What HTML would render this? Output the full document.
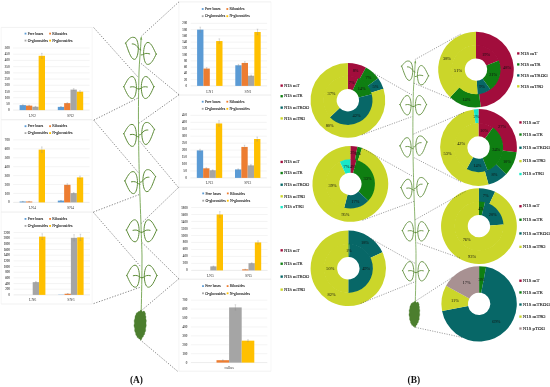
<!DOCTYPE html>
<html><head><meta charset="utf-8"><title>Figure</title>
<style>html,body{margin:0;padding:0;background:#fff}body{width:550px;height:387px;overflow:hidden}svg{display:block;font-family:'Liberation Serif', serif}</style>
</head><body>
<svg width="550" height="387" viewBox="0 0 550 387" font-family='"Liberation Serif", serif'>
<rect width="550" height="387" fill="#fff"/>
<g>
<rect x="1.2" y="27.4" width="91" height="92.4" fill="#fff"/>
<path d="M1.2 27.4H92.2M1.2 119.8H92.2" stroke="#E2E2E2" stroke-width="0.5" fill="none"/>
<path d="M1.2 27.4V119.8M92.2 27.4V119.8" stroke="#EDEDED" stroke-width="0.5" fill="none"/>
<line x1="13.2" y1="110.1" x2="89.6" y2="110.1" stroke="#CFCFCF" stroke-width="0.4"/>
<text x="9.5" y="111.15" font-size="3.1" text-anchor="end" fill="#474747" stroke="#474747" stroke-width="0.08">0</text>
<line x1="13.2" y1="103.89" x2="89.6" y2="103.89" stroke="#E4E4E4" stroke-width="0.4"/>
<text x="9.5" y="104.94" font-size="3.1" text-anchor="end" fill="#474747" stroke="#474747" stroke-width="0.08">50</text>
<line x1="13.2" y1="97.68" x2="89.6" y2="97.68" stroke="#E4E4E4" stroke-width="0.4"/>
<text x="9.5" y="98.73" font-size="3.1" text-anchor="end" fill="#474747" stroke="#474747" stroke-width="0.08">100</text>
<line x1="13.2" y1="91.47" x2="89.6" y2="91.47" stroke="#E4E4E4" stroke-width="0.4"/>
<text x="9.5" y="92.52" font-size="3.1" text-anchor="end" fill="#474747" stroke="#474747" stroke-width="0.08">150</text>
<line x1="13.2" y1="85.26" x2="89.6" y2="85.26" stroke="#E4E4E4" stroke-width="0.4"/>
<text x="9.5" y="86.31" font-size="3.1" text-anchor="end" fill="#474747" stroke="#474747" stroke-width="0.08">200</text>
<line x1="13.2" y1="79.05" x2="89.6" y2="79.05" stroke="#E4E4E4" stroke-width="0.4"/>
<text x="9.5" y="80.1" font-size="3.1" text-anchor="end" fill="#474747" stroke="#474747" stroke-width="0.08">250</text>
<line x1="13.2" y1="72.84" x2="89.6" y2="72.84" stroke="#E4E4E4" stroke-width="0.4"/>
<text x="9.5" y="73.89" font-size="3.1" text-anchor="end" fill="#474747" stroke="#474747" stroke-width="0.08">300</text>
<line x1="13.2" y1="66.63" x2="89.6" y2="66.63" stroke="#E4E4E4" stroke-width="0.4"/>
<text x="9.5" y="67.68" font-size="3.1" text-anchor="end" fill="#474747" stroke="#474747" stroke-width="0.08">350</text>
<line x1="13.2" y1="60.42" x2="89.6" y2="60.42" stroke="#E4E4E4" stroke-width="0.4"/>
<text x="9.5" y="61.47" font-size="3.1" text-anchor="end" fill="#474747" stroke="#474747" stroke-width="0.08">400</text>
<line x1="13.2" y1="54.21" x2="89.6" y2="54.21" stroke="#E4E4E4" stroke-width="0.4"/>
<text x="9.5" y="55.26" font-size="3.1" text-anchor="end" fill="#474747" stroke="#474747" stroke-width="0.08">450</text>
<line x1="13.2" y1="48" x2="89.6" y2="48" stroke="#E4E4E4" stroke-width="0.4"/>
<text x="9.5" y="49.05" font-size="3.1" text-anchor="end" fill="#474747" stroke="#474747" stroke-width="0.08">500</text>
<rect x="19.6" y="105.13" width="6.35" height="4.97" fill="#5B9BD5"/>
<path d="M22.77 104.76V105.5M21.97 104.76h1.6M21.97 105.5h1.6" stroke="#8a8a8a" stroke-width="0.3" fill="none"/>
<rect x="25.95" y="105.63" width="6.35" height="4.47" fill="#ED7D31"/>
<path d="M29.12 105.26V106M28.32 105.26h1.6M28.32 106h1.6" stroke="#8a8a8a" stroke-width="0.3" fill="none"/>
<rect x="32.3" y="106.75" width="6.35" height="3.35" fill="#A5A5A5"/>
<path d="M35.47 106.37V107.12M34.67 106.37h1.6M34.67 107.12h1.6" stroke="#8a8a8a" stroke-width="0.3" fill="none"/>
<rect x="38.65" y="55.82" width="6.35" height="54.28" fill="#FFC000"/>
<path d="M41.82 53.34V58.31M41.02 53.34h1.6M41.02 58.31h1.6" stroke="#8a8a8a" stroke-width="0.3" fill="none"/>
<text x="32.3" y="116.55" font-size="4" text-anchor="middle" fill="#474747">LN2</text>
<rect x="57.8" y="106.87" width="6.35" height="3.23" fill="#5B9BD5"/>
<path d="M60.97 106.62V107.12M60.17 106.62h1.6M60.17 107.12h1.6" stroke="#8a8a8a" stroke-width="0.3" fill="none"/>
<rect x="64.15" y="103.14" width="6.35" height="6.96" fill="#ED7D31"/>
<path d="M67.32 102.65V103.64M66.52 102.65h1.6M66.52 103.64h1.6" stroke="#8a8a8a" stroke-width="0.3" fill="none"/>
<rect x="70.5" y="89.61" width="6.35" height="20.49" fill="#A5A5A5"/>
<path d="M73.67 88.61V90.6M72.87 88.61h1.6M72.87 90.6h1.6" stroke="#8a8a8a" stroke-width="0.3" fill="none"/>
<rect x="76.85" y="91.72" width="6.35" height="18.38" fill="#FFC000"/>
<path d="M80.02 90.72V92.71M79.22 90.72h1.6M79.22 92.71h1.6" stroke="#8a8a8a" stroke-width="0.3" fill="none"/>
<text x="70.5" y="116.55" font-size="4" text-anchor="middle" fill="#474747">SN2</text>
<rect x="24.6" y="32.7" width="1.8" height="1.8" fill="#5B9BD5"/>
<text x="27.7" y="34.85" font-size="3.8" fill="#2a2a2a" stroke="#2a2a2a" stroke-width="0.1" textLength="15.6" lengthAdjust="spacingAndGlyphs">Free bases</text>
<rect x="49.2" y="32.7" width="1.8" height="1.8" fill="#ED7D31"/>
<text x="52.3" y="34.85" font-size="3.8" fill="#2a2a2a" stroke="#2a2a2a" stroke-width="0.1" textLength="14.9" lengthAdjust="spacingAndGlyphs">Ribosides</text>
<rect x="24.6" y="39.7" width="1.8" height="1.8" fill="#A5A5A5"/>
<text x="27.7" y="41.85" font-size="3.8" fill="#2a2a2a" stroke="#2a2a2a" stroke-width="0.1" textLength="20.3" lengthAdjust="spacingAndGlyphs">O-glucosides</text>
<rect x="49.2" y="39.7" width="1.8" height="1.8" fill="#FFC000"/>
<text x="52.3" y="41.85" font-size="3.8" fill="#2a2a2a" stroke="#2a2a2a" stroke-width="0.1" textLength="20.2" lengthAdjust="spacingAndGlyphs">N-glucosides</text>
</g>
<g>
<rect x="1.2" y="119.8" width="91" height="92.4" fill="#fff"/>
<path d="M1.2 119.8H92.2M1.2 212.2H92.2" stroke="#E2E2E2" stroke-width="0.5" fill="none"/>
<path d="M1.2 119.8V212.2M92.2 119.8V212.2" stroke="#EDEDED" stroke-width="0.5" fill="none"/>
<line x1="13.2" y1="202.4" x2="89.6" y2="202.4" stroke="#CFCFCF" stroke-width="0.4"/>
<text x="9.5" y="203.45" font-size="3.1" text-anchor="end" fill="#474747" stroke="#474747" stroke-width="0.08">0</text>
<line x1="13.2" y1="193.47" x2="89.6" y2="193.47" stroke="#E4E4E4" stroke-width="0.4"/>
<text x="9.5" y="194.52" font-size="3.1" text-anchor="end" fill="#474747" stroke="#474747" stroke-width="0.08">100</text>
<line x1="13.2" y1="184.54" x2="89.6" y2="184.54" stroke="#E4E4E4" stroke-width="0.4"/>
<text x="9.5" y="185.59" font-size="3.1" text-anchor="end" fill="#474747" stroke="#474747" stroke-width="0.08">200</text>
<line x1="13.2" y1="175.61" x2="89.6" y2="175.61" stroke="#E4E4E4" stroke-width="0.4"/>
<text x="9.5" y="176.66" font-size="3.1" text-anchor="end" fill="#474747" stroke="#474747" stroke-width="0.08">300</text>
<line x1="13.2" y1="166.69" x2="89.6" y2="166.69" stroke="#E4E4E4" stroke-width="0.4"/>
<text x="9.5" y="167.74" font-size="3.1" text-anchor="end" fill="#474747" stroke="#474747" stroke-width="0.08">400</text>
<line x1="13.2" y1="157.76" x2="89.6" y2="157.76" stroke="#E4E4E4" stroke-width="0.4"/>
<text x="9.5" y="158.81" font-size="3.1" text-anchor="end" fill="#474747" stroke="#474747" stroke-width="0.08">500</text>
<line x1="13.2" y1="148.83" x2="89.6" y2="148.83" stroke="#E4E4E4" stroke-width="0.4"/>
<text x="9.5" y="149.88" font-size="3.1" text-anchor="end" fill="#474747" stroke="#474747" stroke-width="0.08">600</text>
<line x1="13.2" y1="139.9" x2="89.6" y2="139.9" stroke="#E4E4E4" stroke-width="0.4"/>
<text x="9.5" y="140.95" font-size="3.1" text-anchor="end" fill="#474747" stroke="#474747" stroke-width="0.08">700</text>
<rect x="19.6" y="201.51" width="6.35" height="0.89" fill="#5B9BD5"/>
<path d="M22.77 201.42V201.6M21.97 201.42h1.6M21.97 201.6h1.6" stroke="#8a8a8a" stroke-width="0.3" fill="none"/>
<rect x="25.95" y="201.51" width="6.35" height="0.89" fill="#ED7D31"/>
<path d="M29.12 201.42V201.6M28.32 201.42h1.6M28.32 201.6h1.6" stroke="#8a8a8a" stroke-width="0.3" fill="none"/>
<rect x="38.65" y="149.63" width="6.35" height="52.77" fill="#FFC000"/>
<path d="M41.82 146.95V152.31M41.02 146.95h1.6M41.02 152.31h1.6" stroke="#8a8a8a" stroke-width="0.3" fill="none"/>
<text x="32.3" y="208.95" font-size="4" text-anchor="middle" fill="#474747">LN4</text>
<rect x="57.8" y="200.61" width="6.35" height="1.79" fill="#5B9BD5"/>
<path d="M60.97 200.44V200.79M60.17 200.44h1.6M60.17 200.79h1.6" stroke="#8a8a8a" stroke-width="0.3" fill="none"/>
<rect x="64.15" y="184.81" width="6.35" height="17.59" fill="#ED7D31"/>
<path d="M67.32 183.74V185.88M66.52 183.74h1.6M66.52 185.88h1.6" stroke="#8a8a8a" stroke-width="0.3" fill="none"/>
<rect x="70.5" y="193.11" width="6.35" height="9.29" fill="#A5A5A5"/>
<path d="M73.67 192.58V193.65M72.87 192.58h1.6M72.87 193.65h1.6" stroke="#8a8a8a" stroke-width="0.3" fill="none"/>
<rect x="76.85" y="177.4" width="6.35" height="25" fill="#FFC000"/>
<path d="M80.02 176.15V178.65M79.22 176.15h1.6M79.22 178.65h1.6" stroke="#8a8a8a" stroke-width="0.3" fill="none"/>
<text x="70.5" y="208.95" font-size="4" text-anchor="middle" fill="#474747">SN4</text>
<rect x="24.6" y="125.3" width="1.8" height="1.8" fill="#5B9BD5"/>
<text x="27.7" y="127.45" font-size="3.8" fill="#2a2a2a" stroke="#2a2a2a" stroke-width="0.1" textLength="15.6" lengthAdjust="spacingAndGlyphs">Free bases</text>
<rect x="49.2" y="125.3" width="1.8" height="1.8" fill="#ED7D31"/>
<text x="52.3" y="127.45" font-size="3.8" fill="#2a2a2a" stroke="#2a2a2a" stroke-width="0.1" textLength="14.9" lengthAdjust="spacingAndGlyphs">Ribosides</text>
<rect x="24.6" y="132.2" width="1.8" height="1.8" fill="#A5A5A5"/>
<text x="27.7" y="134.35" font-size="3.8" fill="#2a2a2a" stroke="#2a2a2a" stroke-width="0.1" textLength="20.3" lengthAdjust="spacingAndGlyphs">O-glucosides</text>
<rect x="49.2" y="132.2" width="1.8" height="1.8" fill="#FFC000"/>
<text x="52.3" y="134.35" font-size="3.8" fill="#2a2a2a" stroke="#2a2a2a" stroke-width="0.1" textLength="20.2" lengthAdjust="spacingAndGlyphs">N-glucosides</text>
</g>
<g>
<rect x="1.2" y="212.2" width="91" height="91.8" fill="#fff"/>
<path d="M1.2 212.2H92.2M1.2 304H92.2" stroke="#E2E2E2" stroke-width="0.5" fill="none"/>
<path d="M1.2 212.2V304M92.2 212.2V304" stroke="#EDEDED" stroke-width="0.5" fill="none"/>
<line x1="13.6" y1="294.9" x2="90" y2="294.9" stroke="#CFCFCF" stroke-width="0.4"/>
<text x="9.9" y="295.95" font-size="3.1" text-anchor="end" fill="#474747" stroke="#474747" stroke-width="0.08">0</text>
<line x1="13.6" y1="289.23" x2="90" y2="289.23" stroke="#E4E4E4" stroke-width="0.4"/>
<text x="9.9" y="290.28" font-size="3.1" text-anchor="end" fill="#474747" stroke="#474747" stroke-width="0.08">200</text>
<line x1="13.6" y1="283.55" x2="90" y2="283.55" stroke="#E4E4E4" stroke-width="0.4"/>
<text x="9.9" y="284.6" font-size="3.1" text-anchor="end" fill="#474747" stroke="#474747" stroke-width="0.08">400</text>
<line x1="13.6" y1="277.88" x2="90" y2="277.88" stroke="#E4E4E4" stroke-width="0.4"/>
<text x="9.9" y="278.93" font-size="3.1" text-anchor="end" fill="#474747" stroke="#474747" stroke-width="0.08">600</text>
<line x1="13.6" y1="272.21" x2="90" y2="272.21" stroke="#E4E4E4" stroke-width="0.4"/>
<text x="9.9" y="273.26" font-size="3.1" text-anchor="end" fill="#474747" stroke="#474747" stroke-width="0.08">800</text>
<line x1="13.6" y1="266.54" x2="90" y2="266.54" stroke="#E4E4E4" stroke-width="0.4"/>
<text x="9.9" y="267.59" font-size="3.1" text-anchor="end" fill="#474747" stroke="#474747" stroke-width="0.08">1000</text>
<line x1="13.6" y1="260.86" x2="90" y2="260.86" stroke="#E4E4E4" stroke-width="0.4"/>
<text x="9.9" y="261.91" font-size="3.1" text-anchor="end" fill="#474747" stroke="#474747" stroke-width="0.08">1200</text>
<line x1="13.6" y1="255.19" x2="90" y2="255.19" stroke="#E4E4E4" stroke-width="0.4"/>
<text x="9.9" y="256.24" font-size="3.1" text-anchor="end" fill="#474747" stroke="#474747" stroke-width="0.08">1400</text>
<line x1="13.6" y1="249.52" x2="90" y2="249.52" stroke="#E4E4E4" stroke-width="0.4"/>
<text x="9.9" y="250.57" font-size="3.1" text-anchor="end" fill="#474747" stroke="#474747" stroke-width="0.08">1600</text>
<line x1="13.6" y1="243.85" x2="90" y2="243.85" stroke="#E4E4E4" stroke-width="0.4"/>
<text x="9.9" y="244.9" font-size="3.1" text-anchor="end" fill="#474747" stroke="#474747" stroke-width="0.08">1800</text>
<line x1="13.6" y1="238.17" x2="90" y2="238.17" stroke="#E4E4E4" stroke-width="0.4"/>
<text x="9.9" y="239.22" font-size="3.1" text-anchor="end" fill="#474747" stroke="#474747" stroke-width="0.08">2000</text>
<line x1="13.6" y1="232.5" x2="90" y2="232.5" stroke="#E4E4E4" stroke-width="0.4"/>
<text x="9.9" y="233.55" font-size="3.1" text-anchor="end" fill="#474747" stroke="#474747" stroke-width="0.08">2200</text>
<rect x="32.7" y="282.14" width="6.35" height="12.76" fill="#A5A5A5"/>
<path d="M35.88 281.43V282.85M35.08 281.43h1.6M35.08 282.85h1.6" stroke="#8a8a8a" stroke-width="0.3" fill="none"/>
<rect x="39.05" y="236.64" width="6.35" height="58.26" fill="#FFC000"/>
<path d="M42.23 233.8V239.48M41.43 233.8h1.6M41.43 239.48h1.6" stroke="#8a8a8a" stroke-width="0.3" fill="none"/>
<text x="32.7" y="301.45" font-size="4" text-anchor="middle" fill="#474747">LN6</text>
<rect x="58.2" y="294.67" width="6.35" height="0.23" fill="#5B9BD5"/>
<rect x="64.55" y="293.77" width="6.35" height="1.13" fill="#ED7D31"/>
<path d="M67.72 293.65V293.88M66.92 293.65h1.6M66.92 293.88h1.6" stroke="#8a8a8a" stroke-width="0.3" fill="none"/>
<rect x="70.9" y="237.86" width="6.35" height="57.04" fill="#A5A5A5"/>
<path d="M74.07 234.74V240.98M73.27 234.74h1.6M73.27 240.98h1.6" stroke="#8a8a8a" stroke-width="0.3" fill="none"/>
<rect x="77.25" y="237.35" width="6.35" height="57.55" fill="#FFC000"/>
<path d="M80.42 234.23V240.47M79.62 234.23h1.6M79.62 240.47h1.6" stroke="#8a8a8a" stroke-width="0.3" fill="none"/>
<text x="70.9" y="301.45" font-size="4" text-anchor="middle" fill="#474747">SN6</text>
<rect x="24.6" y="218" width="1.8" height="1.8" fill="#5B9BD5"/>
<text x="27.7" y="220.15" font-size="3.8" fill="#2a2a2a" stroke="#2a2a2a" stroke-width="0.1" textLength="15.6" lengthAdjust="spacingAndGlyphs">Free bases</text>
<rect x="49.2" y="218" width="1.8" height="1.8" fill="#ED7D31"/>
<text x="52.3" y="220.15" font-size="3.8" fill="#2a2a2a" stroke="#2a2a2a" stroke-width="0.1" textLength="14.9" lengthAdjust="spacingAndGlyphs">Ribosides</text>
<rect x="24.6" y="225" width="1.8" height="1.8" fill="#A5A5A5"/>
<text x="27.7" y="227.15" font-size="3.8" fill="#2a2a2a" stroke="#2a2a2a" stroke-width="0.1" textLength="20.3" lengthAdjust="spacingAndGlyphs">O-glucosides</text>
<rect x="49.2" y="225" width="1.8" height="1.8" fill="#FFC000"/>
<text x="52.3" y="227.15" font-size="3.8" fill="#2a2a2a" stroke="#2a2a2a" stroke-width="0.1" textLength="20.2" lengthAdjust="spacingAndGlyphs">N-glucosides</text>
</g>
<g>
<rect x="178.9" y="1.9" width="92.1" height="93.25" fill="#fff"/>
<path d="M178.9 1.9H271M178.9 95.15H271" stroke="#E2E2E2" stroke-width="0.5" fill="none"/>
<path d="M178.9 1.9V95.15M271 1.9V95.15" stroke="#EDEDED" stroke-width="0.5" fill="none"/>
<line x1="190.7" y1="85.9" x2="267.1" y2="85.9" stroke="#CFCFCF" stroke-width="0.4"/>
<text x="187" y="86.95" font-size="3.1" text-anchor="end" fill="#474747" stroke="#474747" stroke-width="0.08">0</text>
<line x1="190.7" y1="79.65" x2="267.1" y2="79.65" stroke="#E4E4E4" stroke-width="0.4"/>
<text x="187" y="80.7" font-size="3.1" text-anchor="end" fill="#474747" stroke="#474747" stroke-width="0.08">20</text>
<line x1="190.7" y1="73.4" x2="267.1" y2="73.4" stroke="#E4E4E4" stroke-width="0.4"/>
<text x="187" y="74.45" font-size="3.1" text-anchor="end" fill="#474747" stroke="#474747" stroke-width="0.08">40</text>
<line x1="190.7" y1="67.15" x2="267.1" y2="67.15" stroke="#E4E4E4" stroke-width="0.4"/>
<text x="187" y="68.2" font-size="3.1" text-anchor="end" fill="#474747" stroke="#474747" stroke-width="0.08">60</text>
<line x1="190.7" y1="60.9" x2="267.1" y2="60.9" stroke="#E4E4E4" stroke-width="0.4"/>
<text x="187" y="61.95" font-size="3.1" text-anchor="end" fill="#474747" stroke="#474747" stroke-width="0.08">80</text>
<line x1="190.7" y1="54.65" x2="267.1" y2="54.65" stroke="#E4E4E4" stroke-width="0.4"/>
<text x="187" y="55.7" font-size="3.1" text-anchor="end" fill="#474747" stroke="#474747" stroke-width="0.08">100</text>
<line x1="190.7" y1="48.4" x2="267.1" y2="48.4" stroke="#E4E4E4" stroke-width="0.4"/>
<text x="187" y="49.45" font-size="3.1" text-anchor="end" fill="#474747" stroke="#474747" stroke-width="0.08">120</text>
<line x1="190.7" y1="42.15" x2="267.1" y2="42.15" stroke="#E4E4E4" stroke-width="0.4"/>
<text x="187" y="43.2" font-size="3.1" text-anchor="end" fill="#474747" stroke="#474747" stroke-width="0.08">140</text>
<line x1="190.7" y1="35.9" x2="267.1" y2="35.9" stroke="#E4E4E4" stroke-width="0.4"/>
<text x="187" y="36.95" font-size="3.1" text-anchor="end" fill="#474747" stroke="#474747" stroke-width="0.08">160</text>
<line x1="190.7" y1="29.65" x2="267.1" y2="29.65" stroke="#E4E4E4" stroke-width="0.4"/>
<text x="187" y="30.7" font-size="3.1" text-anchor="end" fill="#474747" stroke="#474747" stroke-width="0.08">180</text>
<line x1="190.7" y1="23.4" x2="267.1" y2="23.4" stroke="#E4E4E4" stroke-width="0.4"/>
<text x="187" y="24.45" font-size="3.1" text-anchor="end" fill="#474747" stroke="#474747" stroke-width="0.08">200</text>
<rect x="197.1" y="29.65" width="6.35" height="56.25" fill="#5B9BD5"/>
<path d="M200.28 27.15V32.15M199.48 27.15h1.6M199.48 32.15h1.6" stroke="#8a8a8a" stroke-width="0.3" fill="none"/>
<rect x="203.45" y="68.56" width="6.35" height="17.34" fill="#ED7D31"/>
<path d="M206.63 67.62V69.49M205.83 67.62h1.6M205.83 69.49h1.6" stroke="#8a8a8a" stroke-width="0.3" fill="none"/>
<rect x="216.15" y="41.06" width="6.35" height="44.84" fill="#FFC000"/>
<path d="M219.33 38.87V43.24M218.53 38.87h1.6M218.53 43.24h1.6" stroke="#8a8a8a" stroke-width="0.3" fill="none"/>
<text x="209.8" y="92.75" font-size="4" text-anchor="middle" fill="#474747">LN1</text>
<rect x="235.3" y="65.28" width="6.35" height="20.63" fill="#5B9BD5"/>
<path d="M238.48 64.34V66.21M237.68 64.34h1.6M237.68 66.21h1.6" stroke="#8a8a8a" stroke-width="0.3" fill="none"/>
<rect x="241.65" y="62.93" width="6.35" height="22.97" fill="#ED7D31"/>
<path d="M244.83 61.68V64.18M244.03 61.68h1.6M244.03 64.18h1.6" stroke="#8a8a8a" stroke-width="0.3" fill="none"/>
<rect x="248" y="75.74" width="6.35" height="10.16" fill="#A5A5A5"/>
<path d="M251.18 75.12V76.37M250.38 75.12h1.6M250.38 76.37h1.6" stroke="#8a8a8a" stroke-width="0.3" fill="none"/>
<rect x="254.35" y="31.99" width="6.35" height="53.91" fill="#FFC000"/>
<path d="M257.53 29.18V34.81M256.73 29.18h1.6M256.73 34.81h1.6" stroke="#8a8a8a" stroke-width="0.3" fill="none"/>
<text x="248" y="92.75" font-size="4" text-anchor="middle" fill="#474747">SN1</text>
<rect x="201.8" y="8.1" width="1.8" height="1.8" fill="#5B9BD5"/>
<text x="204.9" y="10.25" font-size="3.8" fill="#2a2a2a" stroke="#2a2a2a" stroke-width="0.1" textLength="15.6" lengthAdjust="spacingAndGlyphs">Free bases</text>
<rect x="226.4" y="8.1" width="1.8" height="1.8" fill="#ED7D31"/>
<text x="229.5" y="10.25" font-size="3.8" fill="#2a2a2a" stroke="#2a2a2a" stroke-width="0.1" textLength="14.9" lengthAdjust="spacingAndGlyphs">Ribosides</text>
<rect x="201.8" y="15.3" width="1.8" height="1.8" fill="#A5A5A5"/>
<text x="204.9" y="17.45" font-size="3.8" fill="#2a2a2a" stroke="#2a2a2a" stroke-width="0.1" textLength="20.3" lengthAdjust="spacingAndGlyphs">O-glucosides</text>
<rect x="226.4" y="15.3" width="1.8" height="1.8" fill="#FFC000"/>
<text x="229.5" y="17.45" font-size="3.8" fill="#2a2a2a" stroke="#2a2a2a" stroke-width="0.1" textLength="20.2" lengthAdjust="spacingAndGlyphs">N-glucosides</text>
</g>
<g>
<rect x="178.9" y="95.15" width="92.1" height="92.15" fill="#fff"/>
<path d="M178.9 95.15H271M178.9 187.3H271" stroke="#E2E2E2" stroke-width="0.5" fill="none"/>
<path d="M178.9 95.15V187.3M271 95.15V187.3" stroke="#EDEDED" stroke-width="0.5" fill="none"/>
<line x1="190.4" y1="177.9" x2="266.8" y2="177.9" stroke="#CFCFCF" stroke-width="0.4"/>
<text x="186.7" y="178.95" font-size="3.1" text-anchor="end" fill="#474747" stroke="#474747" stroke-width="0.08">0</text>
<line x1="190.4" y1="170.96" x2="266.8" y2="170.96" stroke="#E4E4E4" stroke-width="0.4"/>
<text x="186.7" y="172.01" font-size="3.1" text-anchor="end" fill="#474747" stroke="#474747" stroke-width="0.08">50</text>
<line x1="190.4" y1="164.01" x2="266.8" y2="164.01" stroke="#E4E4E4" stroke-width="0.4"/>
<text x="186.7" y="165.06" font-size="3.1" text-anchor="end" fill="#474747" stroke="#474747" stroke-width="0.08">100</text>
<line x1="190.4" y1="157.07" x2="266.8" y2="157.07" stroke="#E4E4E4" stroke-width="0.4"/>
<text x="186.7" y="158.12" font-size="3.1" text-anchor="end" fill="#474747" stroke="#474747" stroke-width="0.08">150</text>
<line x1="190.4" y1="150.12" x2="266.8" y2="150.12" stroke="#E4E4E4" stroke-width="0.4"/>
<text x="186.7" y="151.17" font-size="3.1" text-anchor="end" fill="#474747" stroke="#474747" stroke-width="0.08">200</text>
<line x1="190.4" y1="143.18" x2="266.8" y2="143.18" stroke="#E4E4E4" stroke-width="0.4"/>
<text x="186.7" y="144.23" font-size="3.1" text-anchor="end" fill="#474747" stroke="#474747" stroke-width="0.08">250</text>
<line x1="190.4" y1="136.23" x2="266.8" y2="136.23" stroke="#E4E4E4" stroke-width="0.4"/>
<text x="186.7" y="137.28" font-size="3.1" text-anchor="end" fill="#474747" stroke="#474747" stroke-width="0.08">300</text>
<line x1="190.4" y1="129.29" x2="266.8" y2="129.29" stroke="#E4E4E4" stroke-width="0.4"/>
<text x="186.7" y="130.34" font-size="3.1" text-anchor="end" fill="#474747" stroke="#474747" stroke-width="0.08">350</text>
<line x1="190.4" y1="122.34" x2="266.8" y2="122.34" stroke="#E4E4E4" stroke-width="0.4"/>
<text x="186.7" y="123.39" font-size="3.1" text-anchor="end" fill="#474747" stroke="#474747" stroke-width="0.08">400</text>
<line x1="190.4" y1="115.4" x2="266.8" y2="115.4" stroke="#E4E4E4" stroke-width="0.4"/>
<text x="186.7" y="116.45" font-size="3.1" text-anchor="end" fill="#474747" stroke="#474747" stroke-width="0.08">450</text>
<rect x="196.8" y="150.4" width="6.35" height="27.5" fill="#5B9BD5"/>
<path d="M199.98 149.29V151.51M199.18 149.29h1.6M199.18 151.51h1.6" stroke="#8a8a8a" stroke-width="0.3" fill="none"/>
<rect x="203.15" y="168.32" width="6.35" height="9.58" fill="#ED7D31"/>
<path d="M206.33 167.76V168.87M205.53 167.76h1.6M205.53 168.87h1.6" stroke="#8a8a8a" stroke-width="0.3" fill="none"/>
<rect x="209.5" y="170.26" width="6.35" height="7.64" fill="#A5A5A5"/>
<path d="M212.68 169.84V170.68M211.88 169.84h1.6M211.88 170.68h1.6" stroke="#8a8a8a" stroke-width="0.3" fill="none"/>
<rect x="215.85" y="123.46" width="6.35" height="54.44" fill="#FFC000"/>
<path d="M219.03 120.68V126.23M218.22 120.68h1.6M218.22 126.23h1.6" stroke="#8a8a8a" stroke-width="0.3" fill="none"/>
<text x="209.5" y="184.15" font-size="4" text-anchor="middle" fill="#474747">LN3</text>
<rect x="235" y="169.43" width="6.35" height="8.47" fill="#5B9BD5"/>
<path d="M238.18 168.87V169.98M237.38 168.87h1.6M237.38 169.98h1.6" stroke="#8a8a8a" stroke-width="0.3" fill="none"/>
<rect x="241.35" y="146.93" width="6.35" height="30.97" fill="#ED7D31"/>
<path d="M244.53 145.26V148.59M243.73 145.26h1.6M243.73 148.59h1.6" stroke="#8a8a8a" stroke-width="0.3" fill="none"/>
<rect x="247.7" y="165.4" width="6.35" height="12.5" fill="#A5A5A5"/>
<path d="M250.88 164.71V166.09M250.08 164.71h1.6M250.08 166.09h1.6" stroke="#8a8a8a" stroke-width="0.3" fill="none"/>
<rect x="254.05" y="139.01" width="6.35" height="38.89" fill="#FFC000"/>
<path d="M257.23 137.07V140.96M256.43 137.07h1.6M256.43 140.96h1.6" stroke="#8a8a8a" stroke-width="0.3" fill="none"/>
<text x="247.7" y="184.15" font-size="4" text-anchor="middle" fill="#474747">SN3</text>
<rect x="201.8" y="100.8" width="1.8" height="1.8" fill="#5B9BD5"/>
<text x="204.9" y="102.95" font-size="3.8" fill="#2a2a2a" stroke="#2a2a2a" stroke-width="0.1" textLength="15.6" lengthAdjust="spacingAndGlyphs">Free bases</text>
<rect x="226.4" y="100.8" width="1.8" height="1.8" fill="#ED7D31"/>
<text x="229.5" y="102.95" font-size="3.8" fill="#2a2a2a" stroke="#2a2a2a" stroke-width="0.1" textLength="14.9" lengthAdjust="spacingAndGlyphs">Ribosides</text>
<rect x="201.8" y="107.9" width="1.8" height="1.8" fill="#A5A5A5"/>
<text x="204.9" y="110.05" font-size="3.8" fill="#2a2a2a" stroke="#2a2a2a" stroke-width="0.1" textLength="20.3" lengthAdjust="spacingAndGlyphs">O-glucosides</text>
<rect x="226.4" y="107.9" width="1.8" height="1.8" fill="#FFC000"/>
<text x="229.5" y="110.05" font-size="3.8" fill="#2a2a2a" stroke="#2a2a2a" stroke-width="0.1" textLength="20.2" lengthAdjust="spacingAndGlyphs">N-glucosides</text>
</g>
<g>
<rect x="178.9" y="187.3" width="92.1" height="92" fill="#fff"/>
<path d="M178.9 187.3H271M178.9 279.3H271" stroke="#E2E2E2" stroke-width="0.5" fill="none"/>
<path d="M178.9 187.3V279.3M271 187.3V279.3" stroke="#EDEDED" stroke-width="0.5" fill="none"/>
<line x1="191.2" y1="270.4" x2="267.6" y2="270.4" stroke="#CFCFCF" stroke-width="0.4"/>
<text x="187.5" y="271.45" font-size="3.1" text-anchor="end" fill="#474747" stroke="#474747" stroke-width="0.08">0</text>
<line x1="191.2" y1="263.41" x2="267.6" y2="263.41" stroke="#E4E4E4" stroke-width="0.4"/>
<text x="187.5" y="264.46" font-size="3.1" text-anchor="end" fill="#474747" stroke="#474747" stroke-width="0.08">200</text>
<line x1="191.2" y1="256.42" x2="267.6" y2="256.42" stroke="#E4E4E4" stroke-width="0.4"/>
<text x="187.5" y="257.47" font-size="3.1" text-anchor="end" fill="#474747" stroke="#474747" stroke-width="0.08">400</text>
<line x1="191.2" y1="249.43" x2="267.6" y2="249.43" stroke="#E4E4E4" stroke-width="0.4"/>
<text x="187.5" y="250.48" font-size="3.1" text-anchor="end" fill="#474747" stroke="#474747" stroke-width="0.08">600</text>
<line x1="191.2" y1="242.44" x2="267.6" y2="242.44" stroke="#E4E4E4" stroke-width="0.4"/>
<text x="187.5" y="243.49" font-size="3.1" text-anchor="end" fill="#474747" stroke="#474747" stroke-width="0.08">800</text>
<line x1="191.2" y1="235.46" x2="267.6" y2="235.46" stroke="#E4E4E4" stroke-width="0.4"/>
<text x="187.5" y="236.51" font-size="3.1" text-anchor="end" fill="#474747" stroke="#474747" stroke-width="0.08">1000</text>
<line x1="191.2" y1="228.47" x2="267.6" y2="228.47" stroke="#E4E4E4" stroke-width="0.4"/>
<text x="187.5" y="229.52" font-size="3.1" text-anchor="end" fill="#474747" stroke="#474747" stroke-width="0.08">1200</text>
<line x1="191.2" y1="221.48" x2="267.6" y2="221.48" stroke="#E4E4E4" stroke-width="0.4"/>
<text x="187.5" y="222.53" font-size="3.1" text-anchor="end" fill="#474747" stroke="#474747" stroke-width="0.08">1400</text>
<line x1="191.2" y1="214.49" x2="267.6" y2="214.49" stroke="#E4E4E4" stroke-width="0.4"/>
<text x="187.5" y="215.54" font-size="3.1" text-anchor="end" fill="#474747" stroke="#474747" stroke-width="0.08">1600</text>
<line x1="191.2" y1="207.5" x2="267.6" y2="207.5" stroke="#E4E4E4" stroke-width="0.4"/>
<text x="187.5" y="208.55" font-size="3.1" text-anchor="end" fill="#474747" stroke="#474747" stroke-width="0.08">1800</text>
<rect x="210.3" y="266.38" width="6.35" height="4.02" fill="#A5A5A5"/>
<path d="M213.48 266.03V266.73M212.68 266.03h1.6M212.68 266.73h1.6" stroke="#8a8a8a" stroke-width="0.3" fill="none"/>
<rect x="216.65" y="214.49" width="6.35" height="55.91" fill="#FFC000"/>
<path d="M219.83 211.69V217.28M219.03 211.69h1.6M219.03 217.28h1.6" stroke="#8a8a8a" stroke-width="0.3" fill="none"/>
<text x="210.3" y="276.85" font-size="4" text-anchor="middle" fill="#474747">LN5</text>
<rect x="242.15" y="269.35" width="6.35" height="1.05" fill="#ED7D31"/>
<path d="M245.33 269.21V269.49M244.53 269.21h1.6M244.53 269.49h1.6" stroke="#8a8a8a" stroke-width="0.3" fill="none"/>
<rect x="248.5" y="263.17" width="6.35" height="7.23" fill="#A5A5A5"/>
<path d="M251.68 262.75V263.59M250.88 262.75h1.6M250.88 263.59h1.6" stroke="#8a8a8a" stroke-width="0.3" fill="none"/>
<rect x="254.85" y="242.44" width="6.35" height="27.96" fill="#FFC000"/>
<path d="M258.03 240.87V244.02M257.23 240.87h1.6M257.23 244.02h1.6" stroke="#8a8a8a" stroke-width="0.3" fill="none"/>
<text x="248.5" y="276.85" font-size="4" text-anchor="middle" fill="#474747">SN5</text>
<rect x="202.3" y="192.5" width="1.8" height="1.8" fill="#5B9BD5"/>
<text x="205.4" y="194.65" font-size="3.8" fill="#2a2a2a" stroke="#2a2a2a" stroke-width="0.1" textLength="15.6" lengthAdjust="spacingAndGlyphs">Free bases</text>
<rect x="226.9" y="192.5" width="1.8" height="1.8" fill="#ED7D31"/>
<text x="230" y="194.65" font-size="3.8" fill="#2a2a2a" stroke="#2a2a2a" stroke-width="0.1" textLength="14.9" lengthAdjust="spacingAndGlyphs">Ribosides</text>
<rect x="202.3" y="199.8" width="1.8" height="1.8" fill="#A5A5A5"/>
<text x="205.4" y="201.95" font-size="3.8" fill="#2a2a2a" stroke="#2a2a2a" stroke-width="0.1" textLength="20.3" lengthAdjust="spacingAndGlyphs">O-glucosides</text>
<rect x="226.9" y="199.8" width="1.8" height="1.8" fill="#FFC000"/>
<text x="230" y="201.95" font-size="3.8" fill="#2a2a2a" stroke="#2a2a2a" stroke-width="0.1" textLength="20.2" lengthAdjust="spacingAndGlyphs">N-glucosides</text>
</g>
<g>
<rect x="178.9" y="279.3" width="92.1" height="91.9" fill="#fff"/>
<path d="M178.9 279.3H271M178.9 371.2H271" stroke="#E2E2E2" stroke-width="0.5" fill="none"/>
<path d="M178.9 279.3V371.2M271 279.3V371.2" stroke="#EDEDED" stroke-width="0.5" fill="none"/>
<line x1="190.9" y1="362.6" x2="267.3" y2="362.6" stroke="#CFCFCF" stroke-width="0.4"/>
<text x="187.2" y="363.65" font-size="3.1" text-anchor="end" fill="#474747" stroke="#474747" stroke-width="0.08">0</text>
<line x1="190.9" y1="353.69" x2="267.3" y2="353.69" stroke="#E4E4E4" stroke-width="0.4"/>
<text x="187.2" y="354.74" font-size="3.1" text-anchor="end" fill="#474747" stroke="#474747" stroke-width="0.08">100</text>
<line x1="190.9" y1="344.77" x2="267.3" y2="344.77" stroke="#E4E4E4" stroke-width="0.4"/>
<text x="187.2" y="345.82" font-size="3.1" text-anchor="end" fill="#474747" stroke="#474747" stroke-width="0.08">200</text>
<line x1="190.9" y1="335.86" x2="267.3" y2="335.86" stroke="#E4E4E4" stroke-width="0.4"/>
<text x="187.2" y="336.91" font-size="3.1" text-anchor="end" fill="#474747" stroke="#474747" stroke-width="0.08">300</text>
<line x1="190.9" y1="326.94" x2="267.3" y2="326.94" stroke="#E4E4E4" stroke-width="0.4"/>
<text x="187.2" y="327.99" font-size="3.1" text-anchor="end" fill="#474747" stroke="#474747" stroke-width="0.08">400</text>
<line x1="190.9" y1="318.03" x2="267.3" y2="318.03" stroke="#E4E4E4" stroke-width="0.4"/>
<text x="187.2" y="319.08" font-size="3.1" text-anchor="end" fill="#474747" stroke="#474747" stroke-width="0.08">500</text>
<line x1="190.9" y1="309.11" x2="267.3" y2="309.11" stroke="#E4E4E4" stroke-width="0.4"/>
<text x="187.2" y="310.16" font-size="3.1" text-anchor="end" fill="#474747" stroke="#474747" stroke-width="0.08">600</text>
<line x1="190.9" y1="300.2" x2="267.3" y2="300.2" stroke="#E4E4E4" stroke-width="0.4"/>
<text x="187.2" y="301.25" font-size="3.1" text-anchor="end" fill="#474747" stroke="#474747" stroke-width="0.08">700</text>
<rect x="216.5" y="360.19" width="12.6" height="2.41" fill="#ED7D31"/>
<path d="M222.8 359.93V360.46M222 359.93h1.6M222 360.46h1.6" stroke="#8a8a8a" stroke-width="0.3" fill="none"/>
<rect x="229.1" y="307.42" width="12.6" height="55.18" fill="#A5A5A5"/>
<path d="M235.4 304.75V310.09M234.6 304.75h1.6M234.6 310.09h1.6" stroke="#8a8a8a" stroke-width="0.3" fill="none"/>
<rect x="241.7" y="340.67" width="12.6" height="21.93" fill="#FFC000"/>
<path d="M248 339.78V341.56M247.2 339.78h1.6M247.2 341.56h1.6" stroke="#8a8a8a" stroke-width="0.3" fill="none"/>
<text x="229.1" y="369.15" font-size="4" text-anchor="middle" fill="#474747">callus</text>
<rect x="202.1" y="285.2" width="1.8" height="1.8" fill="#5B9BD5"/>
<text x="205.2" y="287.35" font-size="3.8" fill="#2a2a2a" stroke="#2a2a2a" stroke-width="0.1" textLength="15.6" lengthAdjust="spacingAndGlyphs">Free bases</text>
<rect x="226.7" y="285.2" width="1.8" height="1.8" fill="#ED7D31"/>
<text x="229.8" y="287.35" font-size="3.8" fill="#2a2a2a" stroke="#2a2a2a" stroke-width="0.1" textLength="14.9" lengthAdjust="spacingAndGlyphs">Ribosides</text>
<rect x="202.1" y="292.4" width="1.8" height="1.8" fill="#A5A5A5"/>
<text x="205.2" y="294.55" font-size="3.8" fill="#2a2a2a" stroke="#2a2a2a" stroke-width="0.1" textLength="20.3" lengthAdjust="spacingAndGlyphs">O-glucosides</text>
<rect x="226.7" y="292.4" width="1.8" height="1.8" fill="#FFC000"/>
<text x="229.8" y="294.55" font-size="3.8" fill="#2a2a2a" stroke="#2a2a2a" stroke-width="0.1" textLength="20.2" lengthAdjust="spacingAndGlyphs">N-glucosides</text>
</g>
<line x1="178.9" y1="1.9" x2="141.3" y2="36.2" stroke="#444" stroke-width="0.65" stroke-dasharray="1.25 1.55"/>
<line x1="178.9" y1="94.6" x2="141" y2="63.4" stroke="#444" stroke-width="0.65" stroke-dasharray="1.25 1.55"/>
<line x1="93.7" y1="27.6" x2="138.3" y2="77.4" stroke="#444" stroke-width="0.65" stroke-dasharray="1.25 1.55"/>
<line x1="93.9" y1="120" x2="138" y2="98" stroke="#444" stroke-width="0.65" stroke-dasharray="1.25 1.55"/>
<line x1="178.9" y1="94.9" x2="139.3" y2="123" stroke="#444" stroke-width="0.65" stroke-dasharray="1.25 1.55"/>
<line x1="178.4" y1="187.4" x2="139.1" y2="140.5" stroke="#444" stroke-width="0.65" stroke-dasharray="1.25 1.55"/>
<line x1="93.9" y1="120.4" x2="139.1" y2="173.5" stroke="#444" stroke-width="0.65" stroke-dasharray="1.25 1.55"/>
<line x1="93.4" y1="212" x2="139.4" y2="194.5" stroke="#444" stroke-width="0.65" stroke-dasharray="1.25 1.55"/>
<line x1="178.4" y1="187.6" x2="141.2" y2="223.5" stroke="#444" stroke-width="0.65" stroke-dasharray="1.25 1.55"/>
<line x1="178.7" y1="278.6" x2="142.2" y2="242.7" stroke="#444" stroke-width="0.65" stroke-dasharray="1.25 1.55"/>
<line x1="93.4" y1="212.4" x2="141" y2="267" stroke="#444" stroke-width="0.65" stroke-dasharray="1.25 1.55"/>
<line x1="93.6" y1="303.6" x2="141" y2="287" stroke="#444" stroke-width="0.65" stroke-dasharray="1.25 1.55"/>
<line x1="178.7" y1="278.9" x2="141.5" y2="310.5" stroke="#444" stroke-width="0.65" stroke-dasharray="1.25 1.55"/>
<line x1="177.5" y1="371.2" x2="140.4" y2="340" stroke="#444" stroke-width="0.65" stroke-dasharray="1.25 1.55"/>
<g transform="translate(0 0) scale(1)">
<path d="M141.2 37.5C140.6 50 139.3 62 139 72C138.6 90 138.3 110 138.5 125C138.6 145 138.9 160 139.3 175C139.8 195 140.6 212 141 225C141.4 238 141.9 248 142 256C142 275 141.6 295 141.2 311" fill="none" stroke="#78A856" stroke-width="0.95"/>
<path d="M141.25 35.9L140.2 39.8L142.3 39.8Z" fill="#78A856"/>
<path d="M14.2 -6.3C12 -8.88 9.6 -12.9 6 -12C3 -12 1.6 -6 1.6 -1.3C1.6 4 3 10 5.6 10C9.2 9.75 11.8 0.23 14.2 -6.3ZM-0.9 0.6C1.2 0.5 2.2 -3 3.8 -4C5 -5.1 6.4 -5.6 7.7 -5.5" transform="translate(139.9 49.4) scale(-1 1)" fill="none" stroke="#5F8D3A" stroke-width="1.0" stroke-linejoin="round" stroke-linecap="round"/>
<path d="M14.2 -0.3C12 -4.38 9.6 -11.7 6 -12C3 -12 1.6 -6 1.6 -1.3C1.6 4 3 10 5.6 10C9.2 10.35 11.8 4.72 14.2 -0.3ZM-0.9 0.6C1.2 0.5 2.2 -0.75 3.8 -1C5 -1.1 6.4 -0.85 7.7 -0.5" transform="translate(142 54.4) scale(1 1)" fill="none" stroke="#5F8D3A" stroke-width="1.0" stroke-linejoin="round" stroke-linecap="round"/>
<path d="M14.2 -1.8C12 -5.5 9.6 -12 6 -12C3 -12 1.6 -6 1.6 -1.3C1.6 4 3 10 5.6 10C9.2 10.2 11.8 3.6 14.2 -1.8ZM-0.9 0.6C1.2 0.5 2.2 -1.2 3.8 -1.6C5 -1.9 6.4 -1.8 7.7 -1.5" transform="translate(138 88.5) scale(-1 1)" fill="none" stroke="#5F8D3A" stroke-width="1.0" stroke-linejoin="round" stroke-linecap="round"/>
<path d="M14.2 -1.8C12 -5.5 9.6 -12 6 -12C3 -12 1.6 -6 1.6 -1.3C1.6 4 3 10 5.6 10C9.2 10.2 11.8 3.6 14.2 -1.8ZM-0.9 0.6C1.2 0.5 2.2 -1.2 3.8 -1.6C5 -1.9 6.4 -1.8 7.7 -1.5" transform="translate(139.7 88.5) scale(1 1)" fill="none" stroke="#5F8D3A" stroke-width="1.0" stroke-linejoin="round" stroke-linecap="round"/>
<path d="M14.2 -2.7C12 -6.17 9.6 -12.18 6 -12C3 -12 1.6 -6 1.6 -1.3C1.6 4 3 10 5.6 10C9.2 10.11 11.8 2.92 14.2 -2.7ZM-0.9 0.6C1.2 0.5 2.2 -1.33 3.8 -1.78C5 -2.14 6.4 -2.08 7.7 -1.8" transform="translate(138 136.4) scale(-1 1)" fill="none" stroke="#5F8D3A" stroke-width="1.0" stroke-linejoin="round" stroke-linecap="round"/>
<path d="M14.2 -5.2C12 -8.05 9.6 -12.68 6 -12C3 -12 1.6 -6 1.6 -1.3C1.6 4 3 10 5.6 10C9.2 9.86 11.8 1.05 14.2 -5.2ZM-0.9 0.6C1.2 0.5 2.2 -2.55 3.8 -3.4C5 -4.3 6.4 -4.65 7.7 -4.5" transform="translate(140.2 134.5) scale(1 1)" fill="none" stroke="#5F8D3A" stroke-width="1.0" stroke-linejoin="round" stroke-linecap="round"/>
<path d="M14.2 -2.7C12 -6.17 9.6 -12.18 6 -12C3 -12 1.6 -6 1.6 -1.3C1.6 4 3 10 5.6 10C9.2 10.11 11.8 2.92 14.2 -2.7ZM-0.9 0.6C1.2 0.5 2.2 -1.33 3.8 -1.78C5 -2.14 6.4 -2.08 7.7 -1.8" transform="translate(139.1 183.6) scale(-1 1)" fill="none" stroke="#5F8D3A" stroke-width="1.0" stroke-linejoin="round" stroke-linecap="round"/>
<path d="M14.2 -5.2C12 -8.05 9.6 -12.68 6 -12C3 -12 1.6 -6 1.6 -1.3C1.6 4 3 10 5.6 10C9.2 9.86 11.8 1.05 14.2 -5.2ZM-0.9 0.6C1.2 0.5 2.2 -2.55 3.8 -3.4C5 -4.3 6.4 -4.65 7.7 -4.5" transform="translate(141.3 181.7) scale(1 1)" fill="none" stroke="#5F8D3A" stroke-width="1.0" stroke-linejoin="round" stroke-linecap="round"/>
<path d="M14.2 -1.8C12 -5.5 9.6 -12 6 -12C3 -12 1.6 -6 1.6 -1.3C1.6 4 3 10 5.6 10C9.2 10.2 11.8 3.6 14.2 -1.8ZM-0.9 0.6C1.2 0.5 2.2 -1.2 3.8 -1.6C5 -1.9 6.4 -1.8 7.7 -1.5" transform="translate(140.7 231.8) scale(-1 1)" fill="none" stroke="#5F8D3A" stroke-width="1.0" stroke-linejoin="round" stroke-linecap="round"/>
<path d="M14.2 -1.8C12 -5.5 9.6 -12 6 -12C3 -12 1.6 -6 1.6 -1.3C1.6 4 3 10 5.6 10C9.2 10.2 11.8 3.6 14.2 -1.8ZM-0.9 0.6C1.2 0.5 2.2 -1.2 3.8 -1.6C5 -1.9 6.4 -1.8 7.7 -1.5" transform="translate(142.4 231.8) scale(1 1)" fill="none" stroke="#5F8D3A" stroke-width="1.0" stroke-linejoin="round" stroke-linecap="round"/>
<path d="M14.2 -1.8C12 -5.5 9.6 -12 6 -12C3 -12 1.6 -6 1.6 -1.3C1.6 4 3 10 5.6 10C9.2 10.2 11.8 3.6 14.2 -1.8ZM-0.9 0.6C1.2 0.5 2.2 -1.2 3.8 -1.6C5 -1.9 6.4 -1.8 7.7 -1.5" transform="translate(141 277.2) scale(-1 1)" fill="none" stroke="#5F8D3A" stroke-width="1.0" stroke-linejoin="round" stroke-linecap="round"/>
<path d="M14.2 -1.8C12 -5.5 9.6 -12 6 -12C3 -12 1.6 -6 1.6 -1.3C1.6 4 3 10 5.6 10C9.2 10.2 11.8 3.6 14.2 -1.8ZM-0.9 0.6C1.2 0.5 2.2 -1.2 3.8 -1.6C5 -1.9 6.4 -1.8 7.7 -1.5" transform="translate(142.7 277.2) scale(1 1)" fill="none" stroke="#5F8D3A" stroke-width="1.0" stroke-linejoin="round" stroke-linecap="round"/>
<path d="M140.8 310.1L142.0 311.0L142.6 311.9L143.4 311.0L144.5 311.3L145.0 312.6L145.6 313.6L145.4 315.2L146.0 316.8L145.8 318.6L146.4 320.7L146.0 323.0L146.3 325.8L145.6 328.3L145.7 331.0L144.8 332.4L144.6 334.4L143.5 335.4L143.2 336.9L142.1 337.6L141.8 338.9L140.8 340.4L139.9 339.0L138.9 338.9L138.3 337.7L137.2 337.6L136.8 336.0L135.8 335.0L135.6 333.0L134.6 331.0L134.7 328.4L133.9 325.8L134.4 323.2L134.1 320.7L134.9 318.4L135.1 316.1L136.0 314.6L136.4 312.9L137.5 312.6L138.4 311.5L139.6 311.3Z" fill="#4C7E2E" stroke="#4C7E2E" stroke-width="0.3" stroke-linejoin="round"/>
</g>
<text x="136.4" y="383.2" font-size="9.4" font-weight="bold" text-anchor="middle" fill="#111">(A)</text>
<text x="413.8" y="383.2" font-size="9.4" font-weight="bold" text-anchor="middle" fill="#111">(B)</text>
<g transform="translate(291.05 28.2) scale(0.88)">
<path d="M141.2 37.5C140.6 50 139.3 62 139 72C138.6 90 138.3 110 138.5 125C138.6 145 138.9 160 139.3 175C139.8 195 140.6 212 141 225C141.4 238 141.9 248 142 256C142 275 141.6 295 141.2 311" fill="none" stroke="#78A856" stroke-width="0.95"/>
<path d="M141.25 35.9L140.2 39.8L142.3 39.8Z" fill="#78A856"/>
<path d="M14.2 -6.3C12 -8.88 9.6 -12.9 6 -12C3 -12 1.6 -6 1.6 -1.3C1.6 4 3 10 5.6 10C9.2 9.75 11.8 0.23 14.2 -6.3ZM-0.9 0.6C1.2 0.5 2.2 -3 3.8 -4C5 -5.1 6.4 -5.6 7.7 -5.5" transform="translate(139.9 49.4) scale(-1 1)" fill="none" stroke="#5F8D3A" stroke-width="1.0" stroke-linejoin="round" stroke-linecap="round"/>
<path d="M14.2 -0.3C12 -4.38 9.6 -11.7 6 -12C3 -12 1.6 -6 1.6 -1.3C1.6 4 3 10 5.6 10C9.2 10.35 11.8 4.72 14.2 -0.3ZM-0.9 0.6C1.2 0.5 2.2 -0.75 3.8 -1C5 -1.1 6.4 -0.85 7.7 -0.5" transform="translate(142 54.4) scale(1 1)" fill="none" stroke="#5F8D3A" stroke-width="1.0" stroke-linejoin="round" stroke-linecap="round"/>
<path d="M14.2 -1.8C12 -5.5 9.6 -12 6 -12C3 -12 1.6 -6 1.6 -1.3C1.6 4 3 10 5.6 10C9.2 10.2 11.8 3.6 14.2 -1.8ZM-0.9 0.6C1.2 0.5 2.2 -1.2 3.8 -1.6C5 -1.9 6.4 -1.8 7.7 -1.5" transform="translate(138 88.5) scale(-1 1)" fill="none" stroke="#5F8D3A" stroke-width="1.0" stroke-linejoin="round" stroke-linecap="round"/>
<path d="M14.2 -1.8C12 -5.5 9.6 -12 6 -12C3 -12 1.6 -6 1.6 -1.3C1.6 4 3 10 5.6 10C9.2 10.2 11.8 3.6 14.2 -1.8ZM-0.9 0.6C1.2 0.5 2.2 -1.2 3.8 -1.6C5 -1.9 6.4 -1.8 7.7 -1.5" transform="translate(139.7 88.5) scale(1 1)" fill="none" stroke="#5F8D3A" stroke-width="1.0" stroke-linejoin="round" stroke-linecap="round"/>
<path d="M14.2 -2.7C12 -6.17 9.6 -12.18 6 -12C3 -12 1.6 -6 1.6 -1.3C1.6 4 3 10 5.6 10C9.2 10.11 11.8 2.92 14.2 -2.7ZM-0.9 0.6C1.2 0.5 2.2 -1.33 3.8 -1.78C5 -2.14 6.4 -2.08 7.7 -1.8" transform="translate(138 136.4) scale(-1 1)" fill="none" stroke="#5F8D3A" stroke-width="1.0" stroke-linejoin="round" stroke-linecap="round"/>
<path d="M14.2 -5.2C12 -8.05 9.6 -12.68 6 -12C3 -12 1.6 -6 1.6 -1.3C1.6 4 3 10 5.6 10C9.2 9.86 11.8 1.05 14.2 -5.2ZM-0.9 0.6C1.2 0.5 2.2 -2.55 3.8 -3.4C5 -4.3 6.4 -4.65 7.7 -4.5" transform="translate(140.2 134.5) scale(1 1)" fill="none" stroke="#5F8D3A" stroke-width="1.0" stroke-linejoin="round" stroke-linecap="round"/>
<path d="M14.2 -2.7C12 -6.17 9.6 -12.18 6 -12C3 -12 1.6 -6 1.6 -1.3C1.6 4 3 10 5.6 10C9.2 10.11 11.8 2.92 14.2 -2.7ZM-0.9 0.6C1.2 0.5 2.2 -1.33 3.8 -1.78C5 -2.14 6.4 -2.08 7.7 -1.8" transform="translate(139.1 183.6) scale(-1 1)" fill="none" stroke="#5F8D3A" stroke-width="1.0" stroke-linejoin="round" stroke-linecap="round"/>
<path d="M14.2 -5.2C12 -8.05 9.6 -12.68 6 -12C3 -12 1.6 -6 1.6 -1.3C1.6 4 3 10 5.6 10C9.2 9.86 11.8 1.05 14.2 -5.2ZM-0.9 0.6C1.2 0.5 2.2 -2.55 3.8 -3.4C5 -4.3 6.4 -4.65 7.7 -4.5" transform="translate(141.3 181.7) scale(1 1)" fill="none" stroke="#5F8D3A" stroke-width="1.0" stroke-linejoin="round" stroke-linecap="round"/>
<path d="M14.2 -1.8C12 -5.5 9.6 -12 6 -12C3 -12 1.6 -6 1.6 -1.3C1.6 4 3 10 5.6 10C9.2 10.2 11.8 3.6 14.2 -1.8ZM-0.9 0.6C1.2 0.5 2.2 -1.2 3.8 -1.6C5 -1.9 6.4 -1.8 7.7 -1.5" transform="translate(140.7 231.8) scale(-1 1)" fill="none" stroke="#5F8D3A" stroke-width="1.0" stroke-linejoin="round" stroke-linecap="round"/>
<path d="M14.2 -1.8C12 -5.5 9.6 -12 6 -12C3 -12 1.6 -6 1.6 -1.3C1.6 4 3 10 5.6 10C9.2 10.2 11.8 3.6 14.2 -1.8ZM-0.9 0.6C1.2 0.5 2.2 -1.2 3.8 -1.6C5 -1.9 6.4 -1.8 7.7 -1.5" transform="translate(142.4 231.8) scale(1 1)" fill="none" stroke="#5F8D3A" stroke-width="1.0" stroke-linejoin="round" stroke-linecap="round"/>
<path d="M14.2 -1.8C12 -5.5 9.6 -12 6 -12C3 -12 1.6 -6 1.6 -1.3C1.6 4 3 10 5.6 10C9.2 10.2 11.8 3.6 14.2 -1.8ZM-0.9 0.6C1.2 0.5 2.2 -1.2 3.8 -1.6C5 -1.9 6.4 -1.8 7.7 -1.5" transform="translate(141 277.2) scale(-1 1)" fill="none" stroke="#5F8D3A" stroke-width="1.0" stroke-linejoin="round" stroke-linecap="round"/>
<path d="M14.2 -1.8C12 -5.5 9.6 -12 6 -12C3 -12 1.6 -6 1.6 -1.3C1.6 4 3 10 5.6 10C9.2 10.2 11.8 3.6 14.2 -1.8ZM-0.9 0.6C1.2 0.5 2.2 -1.2 3.8 -1.6C5 -1.9 6.4 -1.8 7.7 -1.5" transform="translate(142.7 277.2) scale(1 1)" fill="none" stroke="#5F8D3A" stroke-width="1.0" stroke-linejoin="round" stroke-linecap="round"/>
<path d="M140.8 310.1L142.0 311.0L142.6 311.9L143.4 311.0L144.5 311.3L145.0 312.6L145.6 313.6L145.4 315.2L146.0 316.8L145.8 318.6L146.4 320.7L146.0 323.0L146.3 325.8L145.6 328.3L145.7 331.0L144.8 332.4L144.6 334.4L143.5 335.4L143.2 336.9L142.1 337.6L141.8 338.9L140.8 340.4L139.9 339.0L138.9 338.9L138.3 337.7L137.2 337.6L136.8 336.0L135.8 335.0L135.6 333.0L134.6 331.0L134.7 328.4L133.9 325.8L134.4 323.2L134.1 320.7L134.9 318.4L135.1 316.1L136.0 314.6L136.4 312.9L137.5 312.6L138.4 311.5L139.6 311.3Z" fill="#4C7E2E" stroke="#4C7E2E" stroke-width="0.3" stroke-linejoin="round"/>
</g>
<g>
<path d="M347.9 62.9A37.4 37.4 0 0 1 365.92 67.53L359.51 79.18A24.1 24.1 0 0 0 347.9 76.2Z" fill="#A20D3C"/>
<path d="M365.92 67.53A37.4 37.4 0 0 1 378.16 78.32L367.4 86.13A24.1 24.1 0 0 0 359.51 79.18Z" fill="#0F7F12"/>
<path d="M378.16 78.32A37.4 37.4 0 0 1 383.47 88.74L370.82 92.85A24.1 24.1 0 0 0 367.4 86.13Z" fill="#076767"/>
<path d="M383.47 88.74A37.4 37.4 0 1 1 347.9 62.9L347.9 76.2A24.1 24.1 0 1 0 370.82 92.85Z" fill="#CBD62A"/>
<path d="M347.9 75.7A24.6 24.6 0 0 1 358.37 78.04L352.67 90.17A11.2 11.2 0 0 0 347.9 89.1Z" fill="#A20D3C"/>
<path d="M358.37 78.04A24.6 24.6 0 0 1 371.73 94.18L358.75 97.51A11.2 11.2 0 0 0 352.67 90.17Z" fill="#0F7F12"/>
<path d="M371.73 94.18A24.6 24.6 0 0 1 329.97 117.14L339.74 107.97A11.2 11.2 0 0 0 358.75 97.51Z" fill="#076767"/>
<path d="M329.97 117.14A24.6 24.6 0 0 1 347.9 75.7L347.9 89.1A11.2 11.2 0 0 0 339.74 107.97Z" fill="#CBD62A"/>
<text x="355.61" y="71.77" font-size="4.4" text-anchor="middle" fill="#111">8%</text>
<text x="368.4" y="78.55" font-size="4.4" text-anchor="middle" fill="#111">7%</text>
<text x="375.52" y="87.73" font-size="4.4" text-anchor="middle" fill="#111">5%</text>
<text x="329.68" y="126.88" font-size="4.4" text-anchor="middle" fill="#111">80%</text>
<text x="351.8" y="84.33" font-size="4.4" text-anchor="middle" fill="#111">7%</text>
<text x="361.69" y="90.39" font-size="4.4" text-anchor="middle" fill="#111">14%</text>
<text x="356.52" y="117.49" font-size="4.4" text-anchor="middle" fill="#111">42%</text>
<text x="331.47" y="94.69" font-size="4.4" text-anchor="middle" fill="#111">37%</text>
</g>
<g>
<path d="M350.35 146.05A37.9 37.9 0 0 1 357.45 146.72L354.87 160.28A24.1 24.1 0 0 0 350.35 159.85Z" fill="#A20D3C"/>
<path d="M357.45 146.72A37.9 37.9 0 0 1 362.06 147.9L357.8 161.03A24.1 24.1 0 0 0 354.87 160.28Z" fill="#0F7F12"/>
<path d="M362.06 147.9A37.9 37.9 0 1 1 350.35 146.05L350.35 159.85A24.1 24.1 0 1 0 357.8 161.03Z" fill="#CBD62A"/>
<path d="M350.35 159.35A24.6 24.6 0 0 1 356.47 160.12L353.14 173.1A11.2 11.2 0 0 0 350.35 172.75Z" fill="#A20D3C"/>
<path d="M356.47 160.12A24.6 24.6 0 0 1 368.28 200.79L358.51 191.62A11.2 11.2 0 0 0 353.14 173.1Z" fill="#0F7F12"/>
<path d="M368.28 200.79A24.6 24.6 0 0 1 344.23 207.78L347.56 194.8A11.2 11.2 0 0 0 358.51 191.62Z" fill="#076767"/>
<path d="M344.23 207.78A24.6 24.6 0 0 1 339.88 161.69L345.58 173.82A11.2 11.2 0 0 0 347.56 194.8Z" fill="#CBD62A"/>
<path d="M339.88 161.69A24.6 24.6 0 0 1 350.35 159.35L350.35 172.75A11.2 11.2 0 0 0 345.58 173.82Z" fill="#19E8C6"/>
<text x="353.29" y="154.34" font-size="4.4" text-anchor="middle" fill="#111">3%</text>
<text x="358.12" y="155.18" font-size="4.4" text-anchor="middle" fill="#111">2%</text>
<text x="345.46" y="216.32" font-size="4.4" text-anchor="middle" fill="#111">95%</text>
<text x="352.59" y="167.69" font-size="4.4" text-anchor="middle" fill="#111">4%</text>
<text x="367.54" y="180.46" font-size="4.4" text-anchor="middle" fill="#111">33%</text>
<text x="355.34" y="202.64" font-size="4.4" text-anchor="middle" fill="#111">17%</text>
<text x="332.53" y="187.13" font-size="4.4" text-anchor="middle" fill="#111">39%</text>
<text x="346.45" y="167.98" font-size="4.4" text-anchor="middle" fill="#111">7%</text>
</g>
<g>
<path d="M348.3 230.6A37.7 37.7 0 0 1 382.41 252.25L370.11 258.04A24.1 24.1 0 0 0 348.3 244.2Z" fill="#076767"/>
<path d="M382.41 252.25A37.7 37.7 0 1 1 348.3 230.6L348.3 244.2A24.1 24.1 0 1 0 370.11 258.04Z" fill="#CBD62A"/>
<path d="M348.3 243.7A24.6 24.6 0 0 1 349.84 243.75L349 257.12A11.2 11.2 0 0 0 348.3 257.1Z" fill="#0F7F12"/>
<path d="M349.84 243.75A24.6 24.6 0 0 1 348.3 292.9L348.3 279.5A11.2 11.2 0 0 0 349 257.12Z" fill="#076767"/>
<path d="M348.3 292.9A24.6 24.6 0 0 1 348.3 243.7L348.3 257.1A11.2 11.2 0 0 0 348.3 279.5Z" fill="#CBD62A"/>
<text x="364.99" y="243.5" font-size="4.4" text-anchor="middle" fill="#111">18%</text>
<text x="331.61" y="296.1" font-size="4.4" text-anchor="middle" fill="#111">82%</text>
<text x="348.86" y="251.91" font-size="4.4" text-anchor="middle" fill="#111">1%</text>
<text x="366.19" y="270.36" font-size="4.4" text-anchor="middle" fill="#111">49%</text>
<text x="330.4" y="269.8" font-size="4.4" text-anchor="middle" fill="#111">50%</text>
</g>
<g>
<path d="M476 31.8A37.8 37.8 0 0 1 480.74 107.1L479.02 93.51A24.1 24.1 0 0 0 476 45.5Z" fill="#A20D3C"/>
<path d="M480.74 107.1A37.8 37.8 0 0 1 450.12 97.16L459.5 87.17A24.1 24.1 0 0 0 479.02 93.51Z" fill="#0F7F12"/>
<path d="M450.12 97.16A37.8 37.8 0 0 1 476 31.8L476 45.5A24.1 24.1 0 0 0 459.5 87.17Z" fill="#CBD62A"/>
<path d="M476 45A24.6 24.6 0 0 1 498.87 60.54L486.41 65.48A11.2 11.2 0 0 0 476 58.4Z" fill="#A20D3C"/>
<path d="M498.87 60.54A24.6 24.6 0 0 1 490.46 89.5L482.58 78.66A11.2 11.2 0 0 0 486.41 65.48Z" fill="#0F7F12"/>
<path d="M490.46 89.5A24.6 24.6 0 0 1 477.54 94.15L476.7 80.78A11.2 11.2 0 0 0 482.58 78.66Z" fill="#076767"/>
<path d="M477.54 94.15A24.6 24.6 0 1 1 476 45L476 58.4A11.2 11.2 0 1 0 476.7 80.78Z" fill="#CBD62A"/>
<text x="507.14" y="69.14" font-size="4.4" text-anchor="middle" fill="#111">48%</text>
<text x="466.36" y="100.77" font-size="4.4" text-anchor="middle" fill="#111">14%</text>
<text x="446.99" y="59.61" font-size="4.4" text-anchor="middle" fill="#111">38%</text>
<text x="486.06" y="56.3" font-size="4.4" text-anchor="middle" fill="#111">19%</text>
<text x="493.19" y="76.09" font-size="4.4" text-anchor="middle" fill="#111">21%</text>
<text x="482.06" y="87.94" font-size="4.4" text-anchor="middle" fill="#111">9%</text>
<text x="458.11" y="71.66" font-size="4.4" text-anchor="middle" fill="#111">51%</text>
</g>
<g>
<path d="M478.5 109.1A38.4 38.4 0 0 1 516.6 152.31L502.41 150.52A24.1 24.1 0 0 0 478.5 123.4Z" fill="#A20D3C"/>
<path d="M516.6 152.31A38.4 38.4 0 0 1 506.16 174.14L495.86 164.22A24.1 24.1 0 0 0 502.41 150.52Z" fill="#0F7F12"/>
<path d="M506.16 174.14A38.4 38.4 0 0 1 488.52 184.57L484.79 170.77A24.1 24.1 0 0 0 495.86 164.22Z" fill="#076767"/>
<path d="M488.52 184.57A38.4 38.4 0 1 1 473.69 109.4L475.48 123.59A24.1 24.1 0 1 0 484.79 170.77Z" fill="#CBD62A"/>
<path d="M473.69 109.4A38.4 38.4 0 0 1 478.5 109.1L478.5 123.4A24.1 24.1 0 0 0 475.48 123.59Z" fill="#19E8C6"/>
<path d="M478.5 122.9A24.6 24.6 0 0 1 492.96 127.6L485.08 138.44A11.2 11.2 0 0 0 478.5 136.3Z" fill="#A20D3C"/>
<path d="M492.96 127.6A24.6 24.6 0 0 1 487.56 170.37L482.62 157.91A11.2 11.2 0 0 0 485.08 138.44Z" fill="#0F7F12"/>
<path d="M487.56 170.37A24.6 24.6 0 0 1 466.65 169.06L473.1 157.31A11.2 11.2 0 0 0 482.62 157.91Z" fill="#076767"/>
<path d="M466.65 169.06A24.6 24.6 0 0 1 478.5 122.9L478.5 136.3A11.2 11.2 0 0 0 473.1 157.31Z" fill="#CBD62A"/>
<text x="502.13" y="128.17" font-size="4.4" text-anchor="middle" fill="#111">27%</text>
<text x="506.92" y="162.59" font-size="4.4" text-anchor="middle" fill="#111">10%</text>
<text x="494.53" y="176.11" font-size="4.4" text-anchor="middle" fill="#111">8%</text>
<text x="447.6" y="155.1" font-size="4.4" text-anchor="middle" fill="#111">53%</text>
<text x="476.52" y="117.56" font-size="4.4" text-anchor="middle" fill="#111">2%</text>
<text x="484.03" y="131.98" font-size="4.4" text-anchor="middle" fill="#111">10%</text>
<text x="496.26" y="151.24" font-size="4.4" text-anchor="middle" fill="#111">34%</text>
<text x="477.38" y="166.86" font-size="4.4" text-anchor="middle" fill="#111">14%</text>
<text x="461.16" y="144.55" font-size="4.4" text-anchor="middle" fill="#111">42%</text>
</g>
<g>
<path d="M478.95 188.2A37.9 37.9 0 0 1 495.09 191.81L489.21 204.29A24.1 24.1 0 0 0 478.95 202Z" fill="#076767"/>
<path d="M495.09 191.81A37.9 37.9 0 1 1 478.95 188.2L478.95 202A24.1 24.1 0 1 0 489.21 204.29Z" fill="#CBD62A"/>
<path d="M478.95 201.5A24.6 24.6 0 0 1 485.07 202.27L481.74 215.25A11.2 11.2 0 0 0 478.95 214.9Z" fill="#0F7F12"/>
<path d="M485.07 202.27A24.6 24.6 0 0 1 503.5 224.56L490.13 225.4A11.2 11.2 0 0 0 481.74 215.25Z" fill="#076767"/>
<path d="M503.5 224.56A24.6 24.6 0 1 1 478.95 201.5L478.95 214.9A11.2 11.2 0 1 0 490.13 225.4Z" fill="#CBD62A"/>
<text x="485.77" y="197.1" font-size="4.4" text-anchor="middle" fill="#111">7%</text>
<text x="472.13" y="258.1" font-size="4.4" text-anchor="middle" fill="#111">93%</text>
<text x="481.19" y="209.84" font-size="4.4" text-anchor="middle" fill="#111">4%</text>
<text x="492.74" y="216.19" font-size="4.4" text-anchor="middle" fill="#111">20%</text>
<text x="466.7" y="240.65" font-size="4.4" text-anchor="middle" fill="#111">76%</text>
</g>
<g>
<path d="M479.1 266.15A37.7 37.7 0 0 1 486.16 266.82L481.2 292.85A11.2 11.2 0 0 0 479.1 292.65Z" fill="#0F7F12"/>
<path d="M486.16 266.82A37.7 37.7 0 1 1 442.07 310.91L468.1 305.95A11.2 11.2 0 1 0 481.2 292.85Z" fill="#076767"/>
<path d="M442.07 310.91A37.7 37.7 0 0 1 446.06 285.69L469.29 298.45A11.2 11.2 0 0 0 468.1 305.95Z" fill="#CBD62A"/>
<path d="M446.06 285.69A37.7 37.7 0 0 1 479.1 266.15L479.1 292.65A11.2 11.2 0 0 0 469.29 298.45Z" fill="#A89192"/>
<text x="481.4" y="281.01" font-size="4.4" text-anchor="middle" fill="#111">3%</text>
<text x="496.39" y="322.64" font-size="4.4" text-anchor="middle" fill="#111">69%</text>
<text x="454.95" y="301.53" font-size="4.4" text-anchor="middle" fill="#111">11%</text>
<text x="466.65" y="284.3" font-size="4.4" text-anchor="middle" fill="#111">17%</text>
</g>
<line x1="460.6" y1="34.2" x2="414.9" y2="59.6" stroke="#484848" stroke-width="0.55" stroke-dasharray="1.1 1.35"/>
<line x1="455.6" y1="100.5" x2="413.9" y2="83.2" stroke="#484848" stroke-width="0.55" stroke-dasharray="1.1 1.35"/>
<line x1="372.7" y1="72.6" x2="413" y2="95.5" stroke="#484848" stroke-width="0.55" stroke-dasharray="1.1 1.35"/>
<line x1="361.8" y1="134.9" x2="412.6" y2="116.4" stroke="#484848" stroke-width="0.55" stroke-dasharray="1.1 1.35"/>
<line x1="464" y1="112.4" x2="413" y2="134.3" stroke="#484848" stroke-width="0.55" stroke-dasharray="1.1 1.35"/>
<line x1="461" y1="182" x2="413.4" y2="157.3" stroke="#484848" stroke-width="0.55" stroke-dasharray="1.1 1.35"/>
<line x1="361.8" y1="148" x2="413.5" y2="176.8" stroke="#484848" stroke-width="0.55" stroke-dasharray="1.1 1.35"/>
<line x1="362.5" y1="220.3" x2="414.2" y2="201.3" stroke="#484848" stroke-width="0.55" stroke-dasharray="1.1 1.35"/>
<line x1="465.5" y1="191.4" x2="415.4" y2="219.6" stroke="#484848" stroke-width="0.55" stroke-dasharray="1.1 1.35"/>
<line x1="460" y1="258" x2="416" y2="242.4" stroke="#484848" stroke-width="0.55" stroke-dasharray="1.1 1.35"/>
<line x1="371" y1="238.7" x2="415.2" y2="263.4" stroke="#484848" stroke-width="0.55" stroke-dasharray="1.1 1.35"/>
<line x1="360.7" y1="303.5" x2="415.6" y2="281.5" stroke="#484848" stroke-width="0.55" stroke-dasharray="1.1 1.35"/>
<line x1="452.4" y1="277.3" x2="416.3" y2="300.6" stroke="#484848" stroke-width="0.55" stroke-dasharray="1.1 1.35"/>
<line x1="462" y1="337.4" x2="415" y2="327.3" stroke="#484848" stroke-width="0.55" stroke-dasharray="1.1 1.35"/>
<rect x="280.5" y="84.45" width="2.35" height="2.35" fill="#A20D3C"/>
<text x="283.9" y="86.85" font-size="4.65" fill="#111" stroke="#111" stroke-width="0.1">N15 mT</text>
<rect x="280.5" y="95.05" width="2.35" height="2.35" fill="#0F7F12"/>
<text x="283.9" y="97.45" font-size="4.65" fill="#111" stroke="#111" stroke-width="0.1">N15 mTR</text>
<rect x="280.5" y="106.45" width="2.35" height="2.35" fill="#076767"/>
<text x="283.9" y="108.85" font-size="4.65" fill="#111" stroke="#111" stroke-width="0.1">N15 mTROG</text>
<rect x="280.5" y="117.25" width="2.35" height="2.35" fill="#CBD62A"/>
<text x="283.9" y="119.65" font-size="4.65" fill="#111" stroke="#111" stroke-width="0.1">N15 mT9G</text>
<rect x="280.5" y="160.75" width="2.35" height="2.35" fill="#A20D3C"/>
<text x="283.9" y="163.15" font-size="4.65" fill="#111" stroke="#111" stroke-width="0.1">N15 mT</text>
<rect x="280.5" y="171.85" width="2.35" height="2.35" fill="#0F7F12"/>
<text x="283.9" y="174.25" font-size="4.65" fill="#111" stroke="#111" stroke-width="0.1">N15 mTR</text>
<rect x="280.5" y="183.55" width="2.35" height="2.35" fill="#076767"/>
<text x="283.9" y="185.95" font-size="4.65" fill="#111" stroke="#111" stroke-width="0.1">N15 mTROG</text>
<rect x="280.5" y="195.15" width="2.35" height="2.35" fill="#CBD62A"/>
<text x="283.9" y="197.55" font-size="4.65" fill="#111" stroke="#111" stroke-width="0.1">N15 mT9G</text>
<rect x="280.5" y="205.95" width="2.35" height="2.35" fill="#19E8C6"/>
<text x="283.9" y="208.35" font-size="4.65" fill="#111" stroke="#111" stroke-width="0.1">N15 oT9G</text>
<rect x="280.5" y="249.15" width="2.35" height="2.35" fill="#A20D3C"/>
<text x="283.9" y="251.55" font-size="4.65" fill="#111" stroke="#111" stroke-width="0.1">N15 mT</text>
<rect x="280.5" y="262.55" width="2.35" height="2.35" fill="#0F7F12"/>
<text x="283.9" y="264.95" font-size="4.65" fill="#111" stroke="#111" stroke-width="0.1">N15 mTR</text>
<rect x="280.5" y="275.45" width="2.35" height="2.35" fill="#076767"/>
<text x="283.9" y="277.85" font-size="4.65" fill="#111" stroke="#111" stroke-width="0.1">N15 mTROG</text>
<rect x="280.5" y="288.45" width="2.35" height="2.35" fill="#CBD62A"/>
<text x="283.9" y="290.85" font-size="4.65" fill="#111" stroke="#111" stroke-width="0.1">N15 mT9G</text>
<rect x="517.1" y="52.25" width="2.35" height="2.35" fill="#A20D3C"/>
<text x="520.5" y="54.65" font-size="5.0" fill="#111" stroke="#111" stroke-width="0.1">N15 mT</text>
<rect x="517.1" y="63.25" width="2.35" height="2.35" fill="#0F7F12"/>
<text x="520.5" y="65.65" font-size="5.0" fill="#111" stroke="#111" stroke-width="0.1">N15 mTR</text>
<rect x="517.1" y="74.25" width="2.35" height="2.35" fill="#076767"/>
<text x="520.5" y="76.65" font-size="5.0" fill="#111" stroke="#111" stroke-width="0.1">N15 mTROG</text>
<rect x="517.1" y="85.15" width="2.35" height="2.35" fill="#CBD62A"/>
<text x="520.5" y="87.55" font-size="5.0" fill="#111" stroke="#111" stroke-width="0.1">N15 mT9G</text>
<rect x="519.3" y="121.25" width="2.35" height="2.35" fill="#A20D3C"/>
<text x="522.7" y="123.65" font-size="5.0" fill="#111" stroke="#111" stroke-width="0.1">N15 mT</text>
<rect x="519.3" y="133.35" width="2.35" height="2.35" fill="#0F7F12"/>
<text x="522.7" y="135.75" font-size="5.0" fill="#111" stroke="#111" stroke-width="0.1">N15 mTR</text>
<rect x="519.3" y="146.55" width="2.35" height="2.35" fill="#076767"/>
<text x="522.7" y="148.95" font-size="5.0" fill="#111" stroke="#111" stroke-width="0.1">N15 mTROG</text>
<rect x="519.3" y="159.95" width="2.35" height="2.35" fill="#CBD62A"/>
<text x="522.7" y="162.35" font-size="5.0" fill="#111" stroke="#111" stroke-width="0.1">N15 mT9G</text>
<rect x="519.3" y="172.85" width="2.35" height="2.35" fill="#19E8C6"/>
<text x="522.7" y="175.25" font-size="5.0" fill="#111" stroke="#111" stroke-width="0.1">N15 oT9G</text>
<rect x="519.3" y="205.05" width="2.35" height="2.35" fill="#A20D3C"/>
<text x="522.7" y="207.45" font-size="5.0" fill="#111" stroke="#111" stroke-width="0.1">N15 mT</text>
<rect x="519.3" y="218.55" width="2.35" height="2.35" fill="#0F7F12"/>
<text x="522.7" y="220.95" font-size="5.0" fill="#111" stroke="#111" stroke-width="0.1">N15 mTR</text>
<rect x="519.3" y="232.25" width="2.35" height="2.35" fill="#076767"/>
<text x="522.7" y="234.65" font-size="5.0" fill="#111" stroke="#111" stroke-width="0.1">N15 mTROG</text>
<rect x="519.3" y="245.65" width="2.35" height="2.35" fill="#CBD62A"/>
<text x="522.7" y="248.05" font-size="5.0" fill="#111" stroke="#111" stroke-width="0.1">N15 mT9G</text>
<rect x="519.3" y="279.55" width="2.35" height="2.35" fill="#A20D3C"/>
<text x="522.7" y="281.95" font-size="5.0" fill="#111" stroke="#111" stroke-width="0.1">N15 mT</text>
<rect x="519.3" y="291.25" width="2.35" height="2.35" fill="#0F7F12"/>
<text x="522.7" y="293.65" font-size="5.0" fill="#111" stroke="#111" stroke-width="0.1">N15 mTR</text>
<rect x="519.3" y="303.35" width="2.35" height="2.35" fill="#076767"/>
<text x="522.7" y="305.75" font-size="5.0" fill="#111" stroke="#111" stroke-width="0.1">N15 mTROG</text>
<rect x="519.3" y="315.45" width="2.35" height="2.35" fill="#CBD62A"/>
<text x="522.7" y="317.85" font-size="5.0" fill="#111" stroke="#111" stroke-width="0.1">N15 mT9G</text>
<rect x="519.3" y="327.35" width="2.35" height="2.35" fill="#A89192"/>
<text x="522.7" y="329.75" font-size="5.0" fill="#111" stroke="#111" stroke-width="0.1">N15 pTOG</text>
</svg>
</body></html>
